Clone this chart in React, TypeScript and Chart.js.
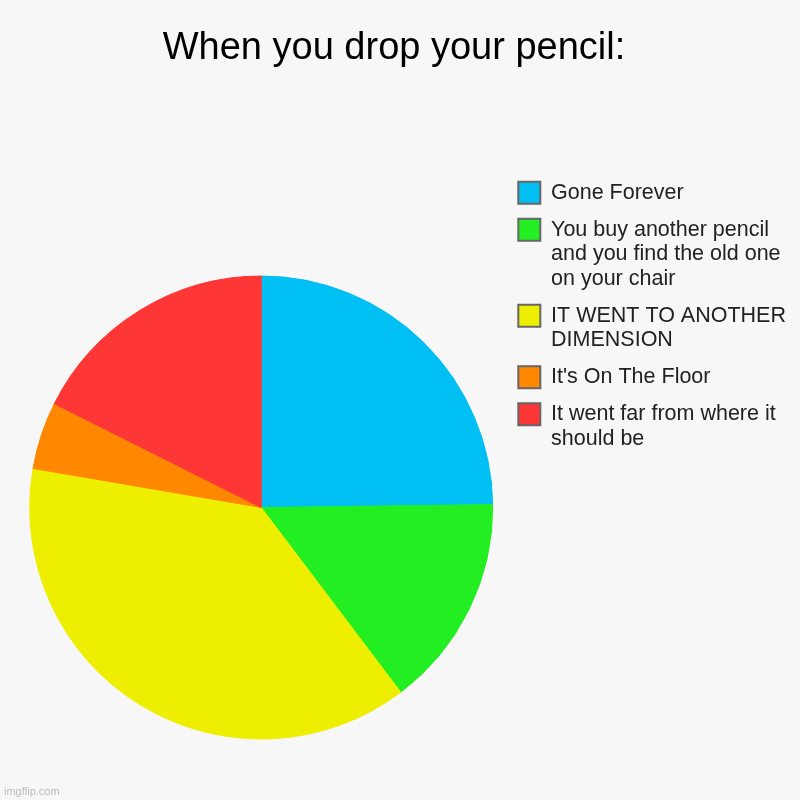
import { useEffect, useRef } from 'react';
import { Chart, ChartConfiguration, registerables } from 'chart.js';

Chart.register(...registerables);

// slice labels (multi-line, as in the legend)
const sliceLabels = [
  ['Gone Forever'],
  ['You buy another pencil', 'and you find the old one', 'on your chair'],
  ['IT WENT TO ANOTHER', 'DIMENSION'],
  ["It's On The Floor"],
  ['It went far from where it', 'should be'],
];
const sliceValues = [24.8, 14.9, 38.0, 4.7, 17.6];
const sliceColors = ['#00bff3', '#22ee22', '#eeee00', '#ff8800', '#ff3636'];

const FONT = '"Liberation Sans", Arial, Helvetica, sans-serif';

// the legend box is kept narrow so the pie sits where it should;
// let its text run on to the canvas edge instead of being clipped
const legendOverflow = {
  id: 'legendOverflow',
  afterLayout(chart: Chart) {
    const legend: any = chart.legend;
    if (legend) {
      legend.right = chart.width;
      legend.width = legend.right - legend.left;
    }
  },
};

const watermark = {
  id: 'watermark',
  afterDraw(chart: Chart) {
    const ctx = chart.ctx;
    ctx.save();
    ctx.font = `11px ${FONT}`;
    ctx.fillStyle = '#bbbbbb';
    ctx.textBaseline = 'alphabetic';
    ctx.fillText('imgflip.com', 4, 795);
    ctx.restore();
  },
};

export default function App() {
  const canvasRef = useRef<HTMLCanvasElement>(null);
  const chartRef = useRef<Chart | null>(null);

  useEffect(() => {
    document.body.style.margin = '0';
    if (!canvasRef.current) return;
    if (chartRef.current) chartRef.current.destroy();

    const baseLabels = (Chart.overrides as any).doughnut.plugins.legend.labels.generateLabels;

    const config: ChartConfiguration<'pie'> = {
      type: 'pie',
      data: {
        labels: sliceLabels as any,
        datasets: [{
          data: sliceValues,
          backgroundColor: sliceColors,
          borderColor: sliceColors,
          borderWidth: 1,
        }],
      },
      options: {
        responsive: false,
        animation: false,
        layout: { padding: { left: 16.6, right: 28.6, top: 0, bottom: 60.5 } },
        plugins: {
          title: {
            display: true,
            text: 'When you drop your pencil:',
            color: '#000',
            font: { family: FONT, size: 38, weight: 'normal', lineHeight: 1.2 },
            padding: { top: 25.7, bottom: 204.2 },
          },
          legend: {
            position: 'right',
            align: 'start',
            maxWidth: 265.6,
            title: {
              display: true,
              text: '',
              padding: { top: 168.2, bottom: 0 },
              font: { size: 1, lineHeight: '1px' },
            },
            labels: {
              boxWidth: 22,
              boxHeight: 22,
              padding: 12.5,
              color: '#222',
              font: { family: FONT, size: 21.5, lineHeight: '24.5px' },
              generateLabels: (chart: Chart) =>
                baseLabels(chart).map((item: any) => ({
                  ...item,
                  strokeStyle: '#666666',
                  lineWidth: 2,
                  fontColor: '#222',
                })),
            },
          },
          tooltip: { enabled: false },
        },
      },
      plugins: [legendOverflow, watermark],
    };

    chartRef.current = new Chart(canvasRef.current, config);

    return () => {
      if (chartRef.current) {
        chartRef.current.destroy();
        chartRef.current = null;
      }
    };
  }, []);

  return (
    <div style={{ width: 800, height: 800, background: '#f7f7f7' }}>
      <canvas ref={canvasRef} width={800} height={800} style={{ display: 'block', width: 800, height: 800 }}></canvas>
    </div>
  );
}
